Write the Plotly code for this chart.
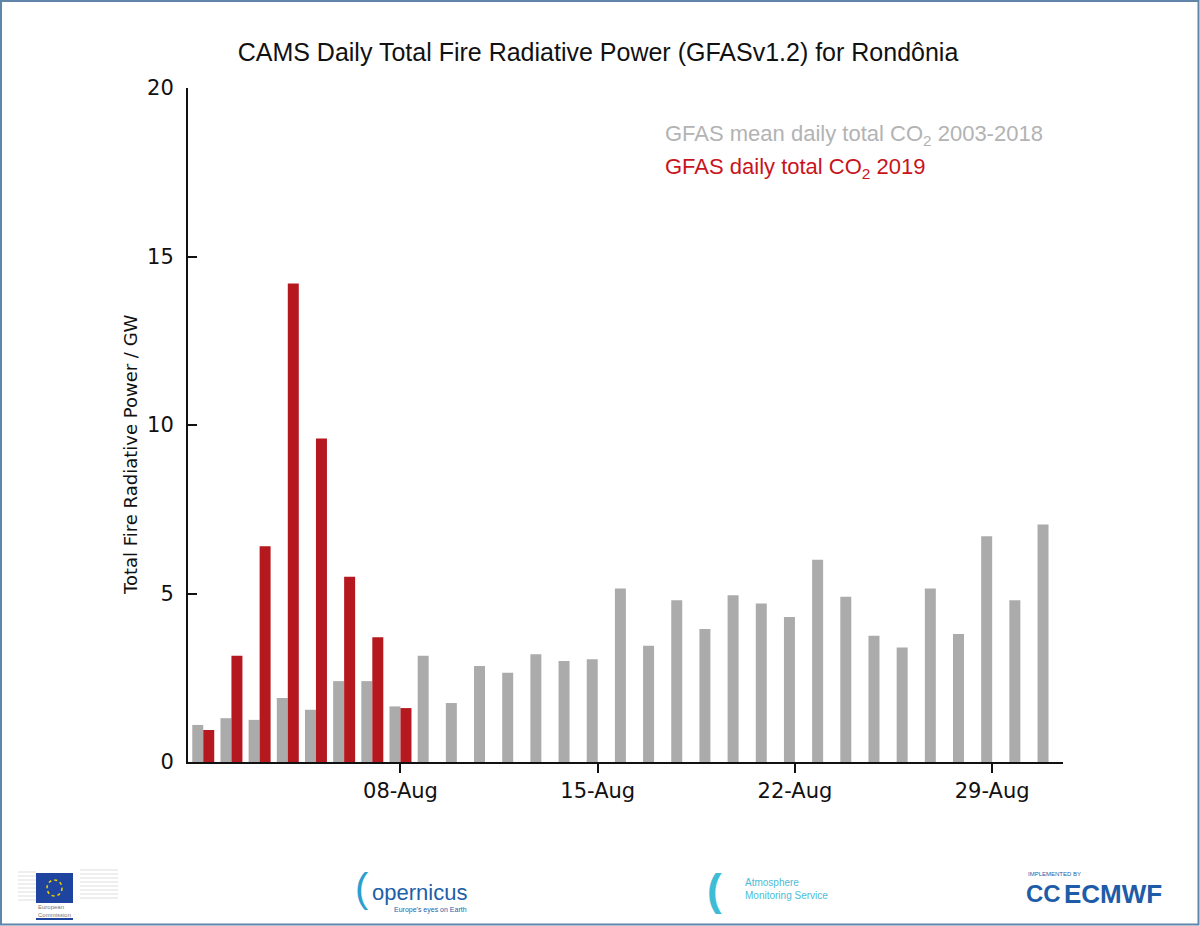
import plotly.graph_objects as go

days = ["2019-08-%02d" % d for d in range(1, 32)]
mean_2003_2018 = [1.1, 1.3, 1.25, 1.9, 1.55, 2.4, 2.4, 1.65, 3.15, 1.75, 2.85, 2.65, 3.2, 3.0, 3.05,
                  5.15, 3.45, 4.8, 3.95, 4.95, 4.7, 4.3, 6.0, 4.9, 3.75, 3.4, 5.15, 3.8, 6.7, 4.8, 7.05]
days_2019 = days[:8]
frp_2019 = [0.95, 3.15, 6.4, 14.2, 9.6, 5.5, 3.7, 1.6]
tick_vals = ["2019-08-08", "2019-08-15", "2019-08-22", "2019-08-29"]
tick_text = ["08-Aug", "15-Aug", "22-Aug", "29-Aug"]
y_ticks = [0, 5, 10, 15, 20]

GRAY = "#ababab"
RED = "#b5181e"

W, H = 1200, 926
ML, MR, MT, MB = 188, 137, 88, 164
PW, PH = W - ML - MR, H - MT - MB


def px_x(px):
    return (px - ML) / PW


def px_y(py):
    return (H - MB - py) / PH


fig = go.Figure()
fig.add_trace(go.Bar(x=days, y=mean_2003_2018, marker_color=GRAY, marker_line_width=0,
                     name="GFAS mean daily total CO2 2003-2018", offsetgroup="a"))
fig.add_trace(go.Bar(x=days_2019, y=frp_2019, marker_color=RED, marker_line_width=0,
                     name="GFAS daily total CO2 2019", offsetgroup="b"))


def prect(x0, y0, x1, y1, fill, line_color=None, lw=0):
    return dict(type="rect", xref="paper", yref="paper",
                x0=px_x(x0), x1=px_x(x1), y0=px_y(y1), y1=px_y(y0),
                line=dict(color=line_color or fill, width=lw), fillcolor=fill)


shapes = [
    dict(type="rect", xref="paper", yref="paper",
         x0=px_x(1), x1=px_x(W - 1.5), y0=px_y(H - 1.5), y1=px_y(1),
         line=dict(color="#5f86aa", width=2), fillcolor="rgba(0,0,0,0)", layer="below"),
]
# European Commission building sketch (light gray lines)
for i in range(8):
    yy = 866 + i * 4
    shapes.append(dict(type="line", xref="paper", yref="paper",
                       x0=px_x(18), x1=px_x(36), y0=px_y(yy + 6), y1=px_y(yy + 6),
                       line=dict(color="#dddddd", width=1)))
    shapes.append(dict(type="line", xref="paper", yref="paper",
                       x0=px_x(80), x1=px_x(118), y0=px_y(yy + 4), y1=px_y(yy + 4),
                       line=dict(color="#dddddd", width=1)))
shapes.append(prect(36, 873, 73, 903, "#1f44a0"))
shapes.append(dict(type="circle", xref="paper", yref="paper",
                   x0=px_x(47), x1=px_x(62), y0=px_y(896), y1=px_y(880),
                   line=dict(color="#f1d400", width=1.5, dash="dot"), fillcolor="rgba(0,0,0,0)"))
shapes.append(prect(36, 918, 73, 920, "#1f44a0"))

annotations = [
    dict(text="Total Fire Radiative Power / GW", xref="paper", yref="paper", textangle=-90,
         x=px_x(130), y=px_y(455), xanchor="center", yanchor="middle", showarrow=False,
         font=dict(family="DejaVu Sans", size=18, color="#111")),
    dict(text="GFAS mean daily total CO<sub>2</sub> 2003-2018", xref="paper", yref="paper",
         x=px_x(663), y=px_y(135), xanchor="left", yanchor="middle", showarrow=False,
         font=dict(family="Liberation Sans, Arial", size=22, color="#b3b3b3")),
    dict(text="GFAS daily total CO<sub>2</sub> 2019", xref="paper", yref="paper",
         x=px_x(663), y=px_y(168), xanchor="left", yanchor="middle", showarrow=False,
         font=dict(family="Liberation Sans, Arial", size=22, color="#c8141c")),
    dict(text="European<br>Commission", xref="paper", yref="paper", align="left",
         x=px_x(36), y=px_y(911), xanchor="left", yanchor="middle", showarrow=False,
         font=dict(family="Liberation Sans, Arial", size=6, color="#777")),
    dict(text="(", xref="paper", yref="paper",
         x=px_x(362), y=px_y(888), xanchor="center", yanchor="middle", showarrow=False,
         font=dict(family="Liberation Sans, Arial", size=40, color="#2aa0cf")),
    dict(text="opernicus", xref="paper", yref="paper",
         x=px_x(370), y=px_y(892), xanchor="left", yanchor="middle", showarrow=False,
         font=dict(family="Liberation Sans, Arial", size=22, color="#1d5fa8")),
    dict(text="Europe's eyes on Earth", xref="paper", yref="paper",
         x=px_x(430), y=px_y(910), xanchor="center", yanchor="middle", showarrow=False,
         font=dict(family="Liberation Sans, Arial", size=7, color="#1d5fa8")),
    dict(text="<b>(</b>", xref="paper", yref="paper",
         x=px_x(714), y=px_y(889), xanchor="center", yanchor="middle", showarrow=False,
         font=dict(family="Liberation Sans, Arial", size=44, color="#3fbcd6")),
    dict(text="Atmosphere<br>Monitoring Service", xref="paper", yref="paper", align="left",
         x=px_x(743), y=px_y(889), xanchor="left", yanchor="middle", showarrow=False,
         font=dict(family="Liberation Sans, Arial", size=10, color="#4cbcd6")),
    dict(text="IMPLEMENTED BY", xref="paper", yref="paper",
         x=px_x(1026), y=px_y(874), xanchor="left", yanchor="middle", showarrow=False,
         font=dict(family="Liberation Sans, Arial", size=6, color="#1f5ca8")),
    dict(text="<b>CC</b>", xref="paper", yref="paper",
         x=px_x(1024), y=px_y(894), xanchor="left", yanchor="middle", showarrow=False,
         font=dict(family="Liberation Sans, Arial", size=24, color="#1f5ca8")),
    dict(text="<b>ECMWF</b>", xref="paper", yref="paper",
         x=px_x(1062), y=px_y(894), xanchor="left", yanchor="middle", showarrow=False,
         font=dict(family="Liberation Sans, Arial", size=26, color="#1f5ca8")),
]

fig.update_layout(
    width=W, height=H,
    margin=dict(l=ML, r=MR, t=MT, b=MB, pad=0),
    paper_bgcolor="white", plot_bgcolor="white",
    showlegend=False,
    barmode="group", bargap=0.22, bargroupgap=0,
    title=dict(text="CAMS Daily Total Fire Radiative Power (GFASv1.2) for Rondônia",
               x=598 / W, xanchor="center", y=1 - 52 / H, yanchor="middle",
               font=dict(family="Liberation Sans, Arial", size=25, color="#111")),
    xaxis=dict(type="date", range=["2019-07-31 11:00", "2019-08-31 12:20"],
               tickvals=tick_vals, ticktext=tick_text,
               ticks="outside", ticklen=9, tickwidth=1.5, tickcolor="#111",
               showline=True, linecolor="#111", linewidth=2, showgrid=False, zeroline=False,
               tickfont=dict(family="DejaVu Sans", size=21, color="#111")),
    yaxis=dict(range=[0, 20], tickvals=y_ticks, ticks="inside", ticklen=9, tickwidth=1.5,
               tickcolor="#111", showline=True, linecolor="#111", linewidth=2,
               showgrid=False, zeroline=False, ticklabelstandoff=8,
               tickfont=dict(family="DejaVu Sans", size=21, color="#111")),
    shapes=shapes,
    annotations=annotations,
)

fig.write_html("out.html")
